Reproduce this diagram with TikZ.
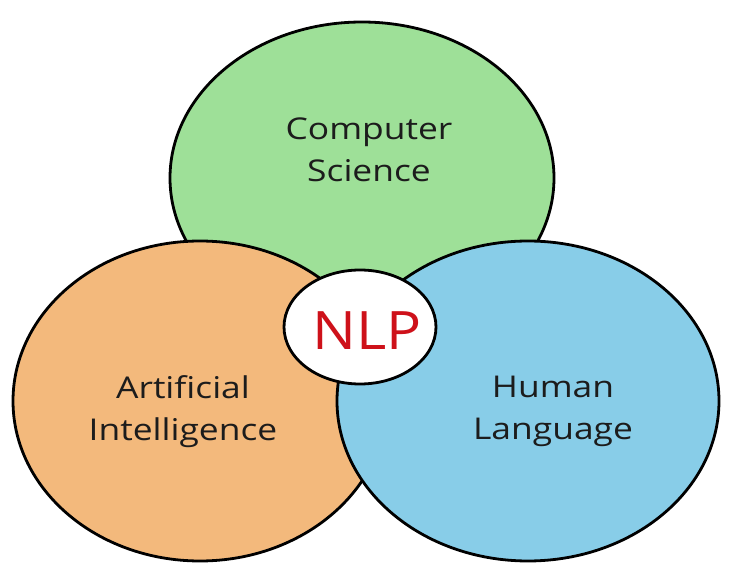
\documentclass[tikz,border=0pt]{standalone}
\usepackage{fontspec}
\setmainfont{Open Sans}
\usetikzlibrary{shapes.geometric}
\definecolor{csgreen}{RGB}{158,224,152}
\definecolor{aiorange}{RGB}{243,185,124}
\definecolor{hlblue}{RGB}{136,205,232}
\definecolor{nlpred}{RGB}{206,17,26}
\definecolor{txtdark}{RGB}{28,28,28}
\begin{document}
\begin{tikzpicture}[x=1pt,y=-1pt,
  blob/.style={ellipse, draw=black, line width=2.8pt, inner sep=0pt, outer sep=0pt},
  lbl/.style={font=\fontsize{30}{42}\selectfont, text=txtdark, align=center, xscale=1.18, anchor=base, inner sep=0pt}]
\fill[white] (0,0) rectangle (732,569);
\useasboundingbox (0,0) rectangle (732,569);
\node[blob, fill=csgreen, minimum width=384pt, minimum height=312pt] (cs) at (362,178) {};
\node[blob, fill=aiorange, minimum width=374pt, minimum height=320pt] (ai) at (200,401) {};
\node[blob, fill=hlblue, minimum width=382pt, minimum height=320pt] (hl) at (528,401) {};
\node[blob, fill=white, minimum width=152pt, minimum height=114pt] (nlp) at (360,327) {};
\node[lbl] (cstext) at (369,182) {Computer\\Science};
\node[lbl] (aitext) at (183,441) {Artificial\\Intelligence};
\node[lbl] (hltext) at (553,440) {Human\\Language};
\node[font=\fontsize{53}{53}\selectfont, text=nlpred, anchor=base, inner sep=0pt, xscale=1.1] (nlptext) at (367,350) {NLP};
\end{tikzpicture}
\end{document}
